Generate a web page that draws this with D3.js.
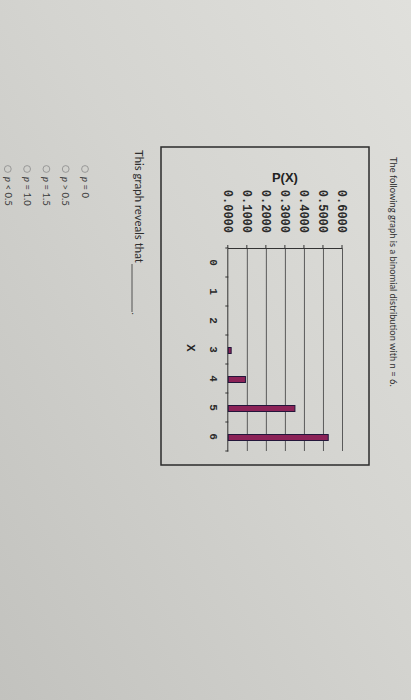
<!DOCTYPE html>
<html>
<head>
<meta charset="utf-8">
<script src="https://cdn.jsdelivr.net/npm/d3@7"></script>
<style>
  html, body { margin: 0; padding: 0; background: #d3d3cf; }
  svg { display: block; }
</style>
</head>
<body>
<svg id="chart" width="411" height="700"></svg>
<script>
// ---- data ----
const categories = ["0", "1", "2", "3", "4", "5", "6"];
const probabilities = [0.0000, 0.0001, 0.0012, 0.0150, 0.0900, 0.3500, 0.5250];
const yTickValues = [0.0, 0.1, 0.2, 0.3, 0.4, 0.5, 0.6];
const titleText = "The following graph is a binomial distribution with n = 6.";
const promptText = "This graph reveals that";
const optionVars = ["p", "p", "p", "p", "p"];
const optionRests = [" = 0", " > 0.5", " = 1.5", " = 1.0", " < 0.5"];

const W = 411, H = 700;
const svg = d3.select("#chart");

// photo-like background
const defs = svg.append("defs");
const grad = defs.append("linearGradient").attr("id", "bg")
  .attr("x1", "100%").attr("y1", "0%").attr("x2", "0%").attr("y2", "100%");
grad.append("stop").attr("offset", "0%").attr("stop-color", "#e0e0dc");
grad.append("stop").attr("offset", "45%").attr("stop-color", "#d4d4d0");
grad.append("stop").attr("offset", "100%").attr("stop-color", "#c2c2be");
svg.append("rect").attr("width", W).attr("height", H).attr("fill", "url(#bg)");

// page rotated 90deg clockwise (as in the photo)
const page = svg.append("g").attr("transform", `translate(${W},0) rotate(90)`);

function fit(sel, target) {
  const fs = parseFloat(sel.attr("font-size"));
  const w = sel.node().getComputedTextLength();
  if (w > 0) sel.attr("font-size", fs * target / w);
  return sel;
}

// title
fit(page.append("text")
  .attr("x", 157).attr("y", 21)
  .attr("font-family", "Lato, 'Open Sans', sans-serif")
  .attr("font-size", 10).attr("fill", "#2e2e2e")
  .text(titleText), 230);

// chart box
page.append("rect")
  .attr("x", 147).attr("y", 42).attr("width", 318).attr("height", 208)
  .attr("fill", "none").attr("stroke", "#2b2b2b").attr("stroke-width", 1.5);

// scales
const x = d3.scaleBand().domain(categories).range([248, 451]).padding(0);
const y = d3.scaleLinear().domain([0, 0.6]).range([182.7, 68.5]);

// gridlines
page.append("g").selectAll("line").data(yTickValues.slice(1)).join("line")
  .attr("x1", 248).attr("x2", 451)
  .attr("y1", d => y(d)).attr("y2", d => y(d))
  .attr("stroke", "#5a5a5a").attr("stroke-width", 1);

// y axis
const yAxis = page.append("g").attr("transform", "translate(248,0)")
  .call(d3.axisLeft(y).tickValues(yTickValues).tickFormat(d3.format(".4f"))
    .tickSizeInner(3).tickSizeOuter(0).tickPadding(12));
yAxis.select(".domain").attr("stroke", "#333");
yAxis.selectAll(".tick line").attr("stroke", "#333");
yAxis.selectAll(".tick text")
  .attr("font-family", "'Liberation Mono', 'DejaVu Sans Mono', monospace")
  .attr("font-size", 12).attr("font-weight", "bold").attr("fill", "#2a2a2a");

// x axis
const xAxis = page.append("g").attr("transform", `translate(0,${y(0)})`)
  .call(d3.axisBottom(x).tickSize(0).tickPadding(11));
xAxis.select(".domain").attr("stroke", "#333");
xAxis.selectAll(".tick text")
  .attr("font-family", "'Liberation Mono', 'DejaVu Sans Mono', monospace")
  .attr("font-size", 11).attr("font-weight", "bold").attr("fill", "#2a2a2a");
// boundary tick marks between categories
const bounds = categories.map(c => x(c)).concat([x(categories[categories.length - 1]) + x.bandwidth()]);
page.append("g").selectAll("line").data(bounds).join("line")
  .attr("x1", d => d).attr("x2", d => d)
  .attr("y1", y(0)).attr("y2", y(0) + 3)
  .attr("stroke", "#333");

// bars (bars shorter than a pixel are not visible in the reference)
const barW = 6;
page.append("g").selectAll("rect").data(probabilities).join("rect")
  .attr("x", (d, i) => x(categories[i]) + x.bandwidth() / 2 - barW / 2 + 1)
  .attr("y", d => y(d))
  .attr("width", barW)
  .attr("height", d => y(0) - y(d))
  .attr("fill", "#8c2257").attr("stroke", "#23163a").attr("stroke-width", 1)
  .attr("display", d => (y(0) - y(d)) >= 1 ? null : "none");

// axis titles
page.append("text")
  .attr("transform", `translate(182,${y(0.3) + 0.5}) rotate(-90)`)
  .attr("text-anchor", "middle")
  .attr("font-family", "'Liberation Sans', Arial, sans-serif")
  .attr("font-size", 13).attr("font-weight", "bold").attr("fill", "#222")
  .text("P(X)");
page.append("text")
  .attr("x", 348).attr("y", 224)
  .attr("text-anchor", "middle")
  .attr("font-family", "'Liberation Sans', Arial, sans-serif")
  .attr("font-size", 11).attr("font-weight", "bold").attr("fill", "#222")
  .text("X");

// prompt
fit(page.append("text")
  .attr("x", 150).attr("y", 276)
  .attr("font-family", "Lato, 'Open Sans', sans-serif")
  .attr("font-size", 10).attr("fill", "#2e2e2e")
  .text(promptText), 113);
page.append("line").attr("x1", 264).attr("x2", 312).attr("y1", 279).attr("y2", 279)
  .attr("stroke", "#333").attr("stroke-width", 0.8);
page.append("text").attr("x", 312.5).attr("y", 279)
  .attr("font-family", "Lato, sans-serif").attr("font-size", 10).attr("fill", "#333").text(".");

// options
const optG = page.append("g").selectAll("g").data(optionRests).join("g")
  .attr("transform", (d, i) => `translate(169,${326 + i * 19.3})`);
optG.append("circle").attr("r", 3.4)
  .attr("fill", "none").attr("stroke", "#8a8a8a").attr("stroke-width", 0.8);
const ot = optG.append("text").attr("x", 8).attr("y", 3.2)
  .attr("font-family", "Lato, 'Open Sans', sans-serif")
  .attr("font-size", 9.5).attr("fill", "#3a3a3a");
ot.append("tspan").attr("font-style", "italic").text((d, i) => optionVars[i]);
ot.append("tspan").text(d => d);
</script>
</body>
</html>
